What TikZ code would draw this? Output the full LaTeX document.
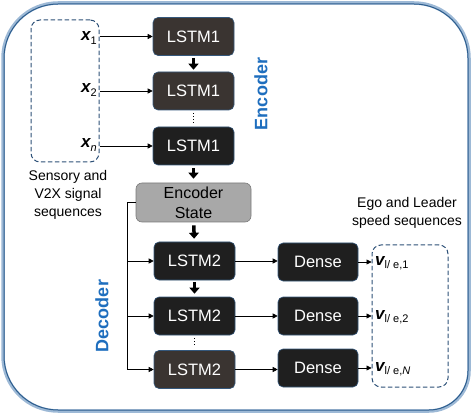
\documentclass[tikz,border=0pt]{standalone}
\usepackage{fontspec}
\setmainfont{Liberation Sans}
\usetikzlibrary{arrows.meta}
\definecolor{boxA}{HTML}{3A3431}
\definecolor{boxB}{HTML}{1F1F1F}
\definecolor{boxedge}{HTML}{35587C}
\definecolor{stategray}{HTML}{A8A8A8}
\definecolor{stateedge}{HTML}{7A7A7A}
\definecolor{bluetext}{HTML}{1E6EBE}
\definecolor{dashblue}{HTML}{2C5077}
\definecolor{framedark}{HTML}{2E5E8E}
\definecolor{framelight}{HTML}{9DB9D6}
\newcommand\veclab[2]{{\fontsize{17}{17}\selectfont\bfseries\itshape #1}{\fontsize{11}{11}\selectfont\raisebox{-3.5pt}{#2}}}
\tikzset{
  cell/.style={rectangle, rounded corners=5pt, draw=boxedge, line width=0.6pt,
    minimum width=81pt, minimum height=38pt, text=white, inner sep=0pt,
    font=\fontsize{16.5}{16.5}\selectfont},
  cellA/.style={cell, fill=boxA},
  cellB/.style={cell, fill=boxB},
  statebox/.style={rectangle, rounded corners=6pt, draw=stateedge, fill=stategray,
    line width=0.6pt, minimum width=115pt, minimum height=39pt, align=center,
    font=\fontsize{16}{20}\selectfont, inner sep=0pt},
  seqbox/.style={draw=dashblue, dashed, dash pattern=on 4.5pt off 2.5pt,
    line width=1pt, rounded corners=9pt, inner sep=0pt},
  conn/.style={line width=0.6pt, -{Triangle[length=5pt,width=5pt]}},
  plain/.style={line width=0.6pt},
  bigarrow/.style={line width=3.5pt, -{Triangle[length=6pt,width=10pt]}},
  dotline/.style={line width=1pt, dotted, shorten <=3pt, shorten >=3pt},
  sidetext/.style={align=center, font=\fontsize{14}{18}\selectfont, inner sep=0pt},
  parttext/.style={rotate=90, text=bluetext, font=\fontsize{18}{18}\selectfont\bfseries, inner sep=0pt},
  lab/.style={inner sep=0pt}
}
\begin{document}
\begin{tikzpicture}[x=1pt,y=-1pt]
\useasboundingbox (0,0) rectangle (474,414);
% outer frame
\path[draw=framelight, line width=3.5pt]
  (3,58) arc[start angle=180,end angle=270,radius=55] -- (414,3)
  arc[start angle=270,end angle=360,radius=55] -- (469,371)
  arc[start angle=0,end angle=90,radius=40] -- (58,411)
  arc[start angle=90,end angle=180,radius=55] -- cycle;
\path[draw=framedark, line width=1pt]
  (4,58) arc[start angle=180,end angle=270,radius=54] -- (414,4)
  arc[start angle=270,end angle=360,radius=54] -- (468,371)
  arc[start angle=0,end angle=90,radius=39] -- (58,410)
  arc[start angle=90,end angle=180,radius=54] -- cycle;

% input sequence
\node[seqbox, minimum width=68pt, minimum height=142pt] (inbox) at (65,91) {};
\node[lab, anchor=east] (x1) at (97,38) {\veclab{x}{1}};
\node[lab, anchor=east] (x2) at (97,90) {\veclab{x}{2}};
\node[lab, anchor=east] (xn) at (97,145) {\veclab{x}{\itshape n}};
\node[sidetext] (sens) at (68,195) {Sensory and\\V2X signal\\sequences};

% encoder
\node[cellA] (e1) at (193.5,36.5) {LSTM1};
\node[cellA] (e2) at (193.5,91) {LSTM1};
\node[cellB] (e3) at (193.5,146) {LSTM1};
\node[parttext] (enc) at (261,94) {Encoder};
\node[statebox] (es) at (193.5,202.5) {Encoder\\State};

\draw[conn] (inbox.east |- e1.west) -- (e1.west);
\draw[conn] (inbox.east |- e2.west) -- (e2.west);
\draw[conn] (inbox.east |- e3.west) -- (e3.west);
\draw[bigarrow, shorten <=2pt, shorten >=2pt] (e1) -- (e2);
\draw[dotline] (e2) -- (e3);
\draw[bigarrow, shorten <=3pt, shorten >=4pt] (e3) -- (es);

% decoder
\node[cellB] (d1) at (194.5,261) {LSTM2};
\node[cellB] (d2) at (194.5,316) {LSTM2};
\node[cellA] (d3) at (194.5,369.5) {LSTM2};
\node[parttext] (dec) at (102,316) {Decoder};

\draw[bigarrow, shorten <=3pt, shorten >=3pt] (es) -- (d1);
\draw[bigarrow, shorten <=2pt, shorten >=3pt] (d1) -- (d2);
\draw[dotline] (d2) -- (d3);

\coordinate (bus) at (127.5,202);
\draw[plain] (es.west |- bus) -- (bus) -- (bus |- d3.west);
\draw[conn] (bus |- d1.west) -- (d1.west);
\draw[conn] (bus |- d2.west) -- (d2.west);
\draw[conn] (bus |- d3.west) -- (d3.west);

% dense layers
\node[cellB, minimum width=80pt] (n1) at (318,262) {Dense};
\node[cellB, minimum width=80pt] (n2) at (318,316) {Dense};
\node[cellB, minimum width=80pt] (n3) at (318,368) {Dense};
\draw[conn] (d1.east) -- (d1.east -| n1.west);
\draw[conn] (d2.east) -- (d2.east -| n2.west);
\draw[conn] (d3.east) -- (d3.east -| n3.west);

% output sequence
\node[seqbox, minimum width=76pt, minimum height=142pt] (outbox) at (410,316) {};
\draw[conn] (n1.east) -- (n1.east -| outbox.west);
\draw[conn] (n2.east) -- (n2.east -| outbox.west);
\draw[conn] (n3.east) -- (n3.east -| outbox.west);
\node[lab, anchor=west] (v1) at (375,263) {\veclab{v}{l/ e,1}};
\node[lab, anchor=west] (v2) at (375,317) {\veclab{v}{l/ e,2}};
\node[lab, anchor=west] (vn) at (375,369) {\veclab{v}{l/ e,\itshape N}};
\node[sidetext] (ego) at (407,213) {Ego and Leader\\speed sequences};
\end{tikzpicture}
\end{document}
